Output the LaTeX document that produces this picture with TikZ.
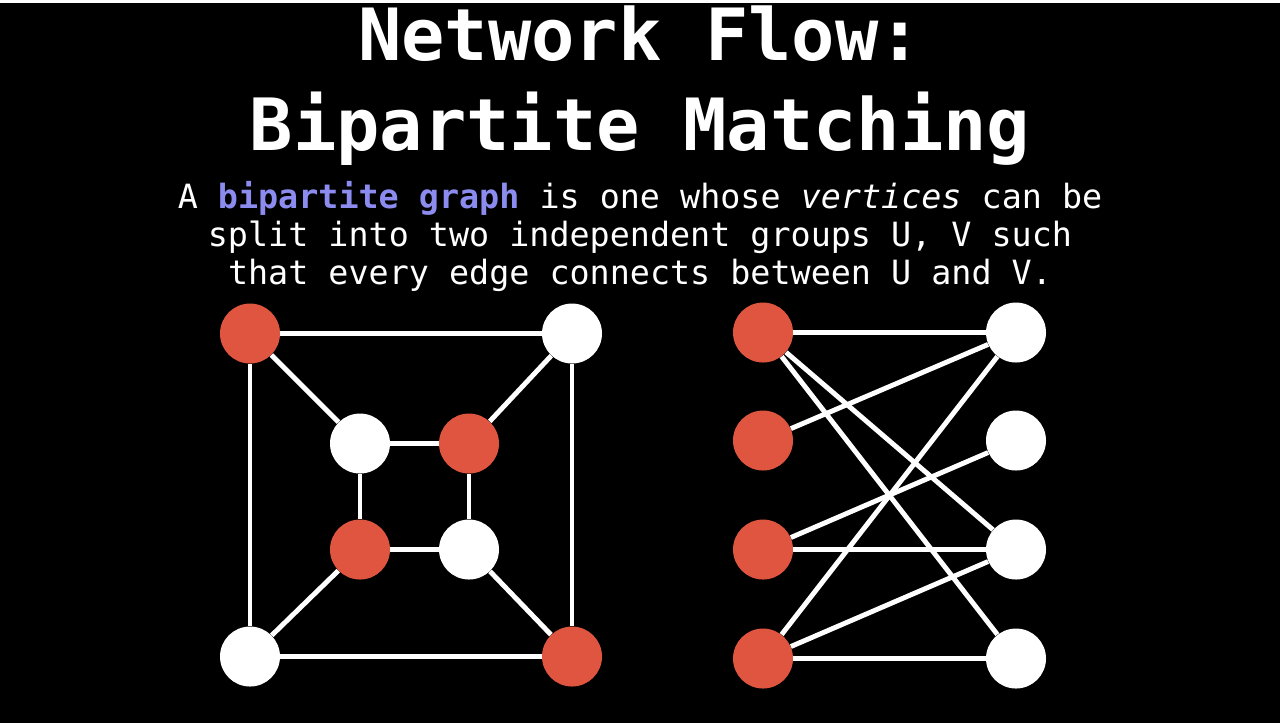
\documentclass[tikz,border=0pt]{standalone}
\usepackage{fontspec}
\setmonofont{DejaVu Sans Mono}
\definecolor{vred}{HTML}{E0553F}
\definecolor{vblue}{HTML}{8C8CF0}
\begin{document}
\begin{tikzpicture}[x=0.02cm,y=-0.02cm,
	vtx/.style={circle,fill=white,minimum size=1.2cm,inner sep=0pt},
	uvtx/.style={vtx,fill=vred},
	edge/.style={white,line width=2.8pt}]
	\fill [black] (0,0) rectangle (1280,720);
	% title
	\node (title) at (640,83) [white,font=\ttfamily\bfseries\fontsize{41}{51}\selectfont,align=center] {Network Flow:\\Bipartite Matching};
	\node (def) at (640,234) [white,font=\ttfamily\fontsize{19}{21.5}\selectfont,align=center] {A \textcolor{vblue}{\bfseries bipartite graph} is one whose \textit{vertices} can be\\split into two independent groups U, V such\\that every edge connects between U and V.};
	% cube graph
	\node (a1) at (250,331) [uvtx] {};
	\node (a2) at (572,331) [vtx] {};
	\node (a3) at (250,654) [vtx] {};
	\node (a4) at (572,654) [uvtx] {};
	\node (b1) at (360,441) [vtx] {};
	\node (b2) at (469,441) [uvtx] {};
	\node (b3) at (360,547) [uvtx] {};
	\node (b4) at (469,547) [vtx] {};
	\draw [edge] (a1) -- (a2) (a2) -- (a4) (a4) -- (a3) (a3) -- (a1);
	\draw [edge] (b1) -- (b2) (b2) -- (b4) (b4) -- (b3) (b3) -- (b1);
	\draw [edge] (a1) -- (b1) (a2) -- (b2) (a3) -- (b3) (a4) -- (b4);
	% two columns
	\foreach \i/\y in {1/330,2/438,3/547,4/656} {
		\node (u\i) at (763,\y) [uvtx] {};
		\node (v\i) at (1016,\y) [vtx] {};
	}
	\foreach \s/\t in {1/1,1/3,1/4,2/1,3/2,3/3,4/1,4/3,4/4}
		\draw [edge] (u\s) -- (v\t);
\end{tikzpicture}
\end{document}
